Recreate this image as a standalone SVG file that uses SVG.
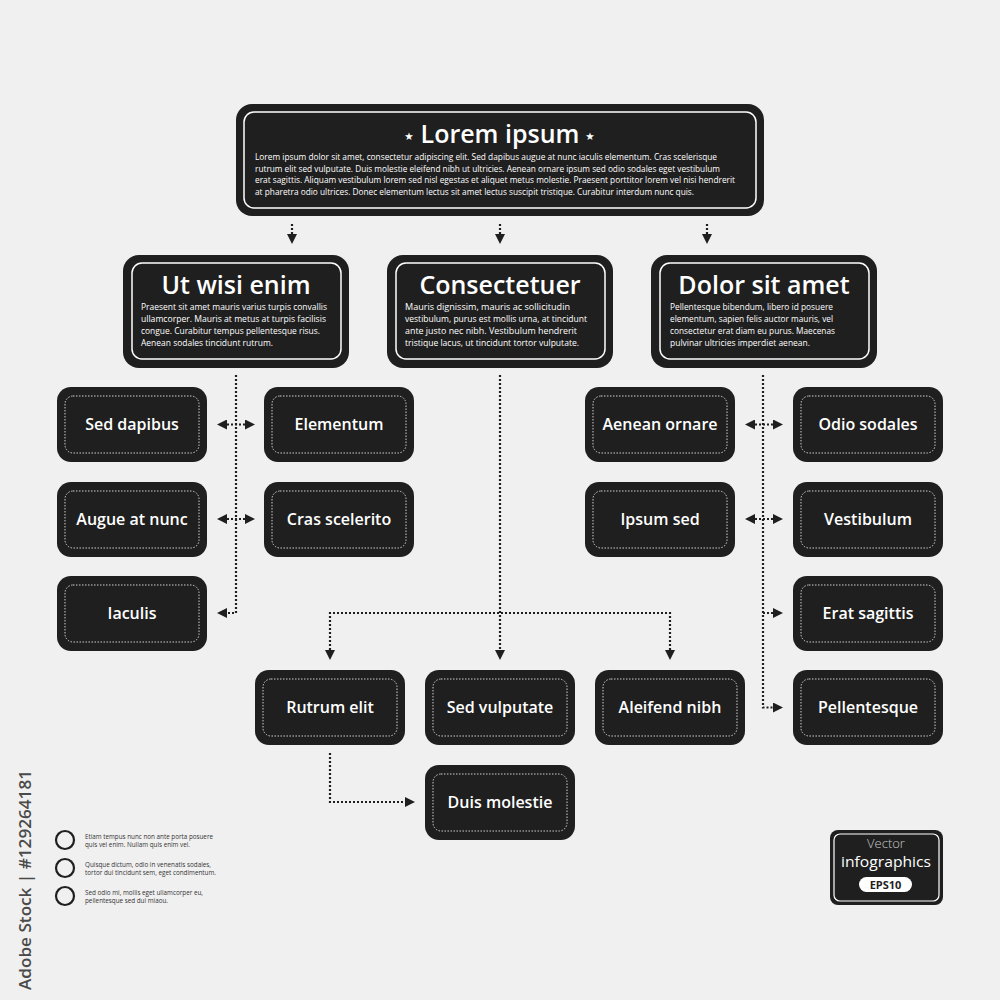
<svg xmlns="http://www.w3.org/2000/svg" width="1000" height="1000" viewBox="0 0 1000 1000">
<style>
.box{fill:#1f1f1f}
.inner{fill:none;stroke:#fff;stroke-width:1.5}
.dotted{fill:none;stroke:#d0d0d0;stroke-width:1;stroke-dasharray:1.5 1.5}
.title{font-family:"Open Sans","Liberation Sans",sans-serif;font-weight:600;font-size:25px;fill:#fff;text-anchor:middle}
.body{font-family:"Open Sans","Liberation Sans",sans-serif;font-weight:400;font-size:9px;fill:#fff}
.lbl{font-family:"Open Sans","Liberation Sans",sans-serif;font-weight:600;font-size:16px;fill:#fff;text-anchor:middle}
.conn{fill:none;stroke:#1f1f1f;stroke-width:2.2;stroke-dasharray:2 2}
.leg{font-family:"Open Sans","Liberation Sans",sans-serif;font-size:6.5px;fill:#333}
.ring{fill:none;stroke:#1f1f1f;stroke-width:2.2}
</style>
<defs>
<marker id="tri" viewBox="0 0 10 10" refX="0" refY="5" markerWidth="10" markerHeight="10" markerUnits="userSpaceOnUse" orient="auto-start-reverse">
<path d="M0,0 L10,5 L0,10 Z" fill="#1f1f1f"/>
</marker>
</defs>
<rect x="0" y="0" width="1000" height="1000" fill="#f0f0f0"/>

<g id="root">
<rect class="box" x="236" y="104" width="528" height="112" rx="16"/>
<rect class="inner" x="244" y="112" width="512" height="96" rx="10"/>
<text class="title" x="500" y="143">Lorem ipsum</text>
<text x="409" y="140" font-family="DejaVu Sans,sans-serif" font-size="10.5" fill="#fff" text-anchor="middle">★</text>
<text x="590" y="140" font-family="DejaVu Sans,sans-serif" font-size="10.5" fill="#fff" text-anchor="middle">★</text>
<text class="body" x="255" y="160" textLength="462" lengthAdjust="spacingAndGlyphs">Lorem ipsum dolor sit amet, consectetur adipiscing elit. Sed dapibus augue at nunc iaculis elementum. Cras scelerisque</text>
<text class="body" x="255" y="171.5" textLength="465" lengthAdjust="spacingAndGlyphs">rutrum elit sed vulputate. Duis molestie eleifend nibh ut ultricies. Aenean ornare ipsum sed odio sodales eget vestibulum</text>
<text class="body" x="255" y="183" textLength="480" lengthAdjust="spacingAndGlyphs">erat sagittis. Aliquam vestibulum lorem sed nisl egestas et aliquet metus molestie. Praesent porttitor lorem vel nisi hendrerit</text>
<text class="body" x="255" y="194.5" textLength="439" lengthAdjust="spacingAndGlyphs">at pharetra odio ultrices. Donec elementum lectus sit amet lectus suscipit tristique. Curabitur interdum nunc quis.</text>
</g>

<g id="ut-wisi-enim">
<rect class="box" x="123" y="255" width="226" height="113" rx="16"/>
<rect class="inner" x="132" y="263" width="209" height="96" rx="10"/>
<text class="title" x="236" y="294">Ut wisi enim</text>
<text class="body" x="141" y="310" textLength="186" lengthAdjust="spacingAndGlyphs">Praesent sit amet mauris varius turpis convallis</text>
<text class="body" x="141" y="322" textLength="185" lengthAdjust="spacingAndGlyphs">ullamcorper. Mauris at metus at turpis facilisis</text>
<text class="body" x="141" y="334" textLength="179" lengthAdjust="spacingAndGlyphs">congue. Curabitur tempus pellentesque risus.</text>
<text class="body" x="141" y="345.5" textLength="132" lengthAdjust="spacingAndGlyphs">Aenean sodales tincidunt rutrum.</text>
</g>

<g id="consectetuer">
<rect class="box" x="387" y="255" width="226" height="113" rx="16"/>
<rect class="inner" x="396" y="263" width="209" height="96" rx="10"/>
<text class="title" x="500" y="294">Consectetuer</text>
<text class="body" x="405" y="310" textLength="165" lengthAdjust="spacingAndGlyphs">Mauris dignissim, mauris ac sollicitudin</text>
<text class="body" x="405" y="322" textLength="182" lengthAdjust="spacingAndGlyphs">vestibulum, purus est mollis urna, at tincidunt</text>
<text class="body" x="405" y="334" textLength="172" lengthAdjust="spacingAndGlyphs">ante justo nec nibh. Vestibulum hendrerit</text>
<text class="body" x="405" y="345.5" textLength="174" lengthAdjust="spacingAndGlyphs">tristique lacus, ut tincidunt tortor vulputate.</text>
</g>

<g id="dolor-sit-amet">
<rect class="box" x="651" y="255" width="226" height="113" rx="16"/>
<rect class="inner" x="660" y="263" width="209" height="96" rx="10"/>
<text class="title" x="764" y="294">Dolor sit amet</text>
<text class="body" x="670" y="310" textLength="163" lengthAdjust="spacingAndGlyphs">Pellentesque bibendum, libero id posuere</text>
<text class="body" x="670" y="322" textLength="163" lengthAdjust="spacingAndGlyphs">elementum, sapien felis auctor mauris, vel</text>
<text class="body" x="670" y="334" textLength="165" lengthAdjust="spacingAndGlyphs">consectetur erat diam eu purus. Maecenas</text>
<text class="body" x="670" y="345.5" textLength="140" lengthAdjust="spacingAndGlyphs">pulvinar ultricies imperdiet aenean.</text>
</g>

<g id="sed-dapibus"><rect class="box" x="57" y="387" width="150" height="75" rx="14"/><rect class="dotted" x="65" y="396" width="134" height="57" rx="8"/><text class="lbl" x="132" y="430">Sed dapibus</text></g>
<g id="elementum"><rect class="box" x="264" y="387" width="150" height="75" rx="14"/><rect class="dotted" x="272" y="396" width="134" height="57" rx="8"/><text class="lbl" x="339" y="430">Elementum</text></g>
<g id="augue-at-nunc"><rect class="box" x="57" y="482" width="150" height="75" rx="14"/><rect class="dotted" x="65" y="491" width="134" height="57" rx="8"/><text class="lbl" x="132" y="525">Augue at nunc</text></g>
<g id="cras-scelerito"><rect class="box" x="264" y="482" width="150" height="75" rx="14"/><rect class="dotted" x="272" y="491" width="134" height="57" rx="8"/><text class="lbl" x="339" y="525">Cras scelerito</text></g>
<g id="iaculis"><rect class="box" x="57" y="576" width="150" height="75" rx="14"/><rect class="dotted" x="65" y="585" width="134" height="57" rx="8"/><text class="lbl" x="132" y="619">Iaculis</text></g>

<g id="aenean-ornare"><rect class="box" x="585" y="387" width="150" height="75" rx="14"/><rect class="dotted" x="593" y="396" width="134" height="57" rx="8"/><text class="lbl" x="660" y="430">Aenean ornare</text></g>
<g id="odio-sodales"><rect class="box" x="793" y="387" width="150" height="75" rx="14"/><rect class="dotted" x="801" y="396" width="134" height="57" rx="8"/><text class="lbl" x="868" y="430">Odio sodales</text></g>
<g id="ipsum-sed"><rect class="box" x="585" y="482" width="150" height="75" rx="14"/><rect class="dotted" x="593" y="491" width="134" height="57" rx="8"/><text class="lbl" x="660" y="525">Ipsum sed</text></g>
<g id="vestibulum"><rect class="box" x="793" y="482" width="150" height="75" rx="14"/><rect class="dotted" x="801" y="491" width="134" height="57" rx="8"/><text class="lbl" x="868" y="525">Vestibulum</text></g>
<g id="erat-sagittis"><rect class="box" x="793" y="576" width="150" height="75" rx="14"/><rect class="dotted" x="801" y="585" width="134" height="57" rx="8"/><text class="lbl" x="868" y="619">Erat sagittis</text></g>
<g id="pellentesque"><rect class="box" x="793" y="670" width="150" height="75" rx="14"/><rect class="dotted" x="801" y="679" width="134" height="57" rx="8"/><text class="lbl" x="868" y="713">Pellentesque</text></g>

<g id="rutrum-elit"><rect class="box" x="255" y="670" width="150" height="75" rx="14"/><rect class="dotted" x="263" y="679" width="134" height="57" rx="8"/><text class="lbl" x="330" y="713">Rutrum elit</text></g>
<g id="sed-vulputate"><rect class="box" x="425" y="670" width="150" height="75" rx="14"/><rect class="dotted" x="433" y="679" width="134" height="57" rx="8"/><text class="lbl" x="500" y="713">Sed vulputate</text></g>
<g id="aleifend-nibh"><rect class="box" x="595" y="670" width="150" height="75" rx="14"/><rect class="dotted" x="603" y="679" width="134" height="57" rx="8"/><text class="lbl" x="670" y="713">Aleifend nibh</text></g>
<g id="duis-molestie"><rect class="box" x="425" y="765" width="150" height="75" rx="14"/><rect class="dotted" x="433" y="774" width="134" height="57" rx="8"/><text class="lbl" x="500" y="808">Duis molestie</text></g>

<g id="connectors">
<path class="conn" d="M292,224 V234" marker-end="url(#tri)"/>
<path class="conn" d="M500,224 V234" marker-end="url(#tri)"/>
<path class="conn" d="M707,224 V234" marker-end="url(#tri)"/>
<path class="conn" d="M236,375 V613 H227" marker-end="url(#tri)"/>
<path class="conn" d="M227,424.5 H245" marker-start="url(#tri)" marker-end="url(#tri)"/>
<path class="conn" d="M227,519 H245" marker-start="url(#tri)" marker-end="url(#tri)"/>
<path class="conn" d="M500,375 V650" marker-end="url(#tri)"/>
<path class="conn" d="M330,650 V613 H670 V650" marker-start="url(#tri)" marker-end="url(#tri)"/>
<path class="conn" d="M330,753 V802 H405" marker-end="url(#tri)"/>
<path class="conn" d="M763,375 V707.5 H773" marker-end="url(#tri)"/>
<path class="conn" d="M755,424.5 H773" marker-start="url(#tri)" marker-end="url(#tri)"/>
<path class="conn" d="M755,519 H773" marker-start="url(#tri)" marker-end="url(#tri)"/>
<path class="conn" d="M763,613 H773" marker-end="url(#tri)"/>
</g>

<g id="legend">
<circle class="ring" cx="65" cy="840" r="9"/>
<circle class="ring" cx="65" cy="868" r="9"/>
<circle class="ring" cx="65" cy="896" r="9"/>
<text class="leg" x="85" y="838.5" textLength="128" lengthAdjust="spacingAndGlyphs">Etiam tempus nunc non ante porta posuere</text>
<text class="leg" x="85" y="846.5" textLength="105" lengthAdjust="spacingAndGlyphs">quis vel enim. Nullam quis enim vel.</text>
<text class="leg" x="85" y="866.5" textLength="126" lengthAdjust="spacingAndGlyphs">Quisque dictum, odio in venenatis sodales,</text>
<text class="leg" x="85" y="874.5" textLength="131" lengthAdjust="spacingAndGlyphs">tortor dui tincidunt sem, eget condimentum.</text>
<text class="leg" x="85" y="894.5" textLength="118" lengthAdjust="spacingAndGlyphs">Sed odio mi, mollis eget ullamcorper eu,</text>
<text class="leg" x="85" y="902.5" textLength="83" lengthAdjust="spacingAndGlyphs">pellentesque sed dui miaou.</text>
</g>

<g id="badge">
<rect class="box" x="830" y="830" width="113" height="75" rx="8"/>
<rect fill="none" stroke="#fff" stroke-width="1.2" x="834" y="834" width="105" height="67" rx="6"/>
<text x="886" y="848" font-family="Open Sans,Liberation Sans,sans-serif" font-weight="300" font-size="13" fill="#c8c8c8" text-anchor="middle">Vector</text>
<text x="886" y="867" font-family="Open Sans,Liberation Sans,sans-serif" font-weight="400" font-size="14" fill="#fff" text-anchor="middle" textLength="90" lengthAdjust="spacingAndGlyphs">infographics</text>
<rect x="859" y="877" width="53" height="15" rx="7.5" fill="#fff"/>
<text x="885.5" y="888.5" font-family="Open Sans,Liberation Sans,sans-serif" font-weight="700" font-size="11" fill="#1f1f1f" text-anchor="middle">EPS10</text>
</g>

<text transform="translate(31,990) rotate(-90)" font-family="Open Sans,Liberation Sans,sans-serif" font-weight="600" font-size="17" fill="#4a4a4a" textLength="220" lengthAdjust="spacingAndGlyphs">Adobe Stock | #129264181</text>
</svg>
